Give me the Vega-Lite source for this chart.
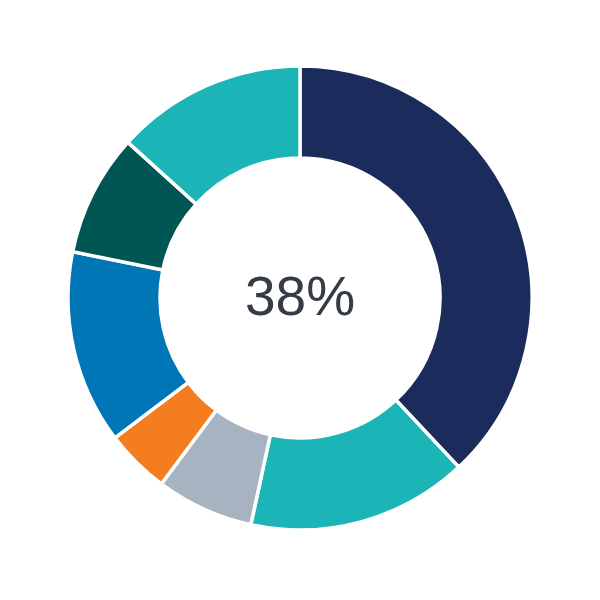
{
  "$schema": "https://vega.github.io/schema/vega-lite/v6.json",
  "width": 600,
  "height": 600,
  "autosize": {"type": "fit", "contains": "padding"},
  "padding": {"left": 0, "right": 0, "top": 0, "bottom": 4},
  "background": "white",
  "view": {"stroke": null},
  "layer": [
    {
      "data": {
        "values": [
          {"segment": "Navy", "value": 38, "order": 1},
          {"segment": "Teal A", "value": 15.4, "order": 2},
          {"segment": "Gray", "value": 6.8, "order": 3},
          {"segment": "Orange", "value": 4.5, "order": 4},
          {"segment": "Blue", "value": 13.5, "order": 5},
          {"segment": "Dark green", "value": 8.5, "order": 6},
          {"segment": "Teal B", "value": 13.3, "order": 7}
        ]
      },
      "mark": {"type": "arc", "radius": 232, "innerRadius": 140, "stroke": "white", "strokeWidth": 3.5},
      "encoding": {
        "theta": {"field": "value", "type": "quantitative", "stack": true},
        "order": {"field": "order", "type": "quantitative"},
        "color": {
          "field": "segment",
          "type": "nominal",
          "legend": null,
          "scale": {
            "domain": ["Navy", "Teal A", "Gray", "Orange", "Blue", "Dark green", "Teal B"],
            "range": ["#1b2b5b", "#1cb5b7", "#a8b3c2", "#f47d20", "#0076b6", "#005653", "#1cb5b7"]
          }
        }
      }
    },
    {
      "data": {"values": [{"label": "38%"}]},
      "mark": {"type": "text", "fontSize": 55, "font": "Liberation Sans", "color": "#353c47", "align": "center", "baseline": "middle"},
      "encoding": {"text": {"field": "label", "type": "nominal"}}
    }
  ]
}
